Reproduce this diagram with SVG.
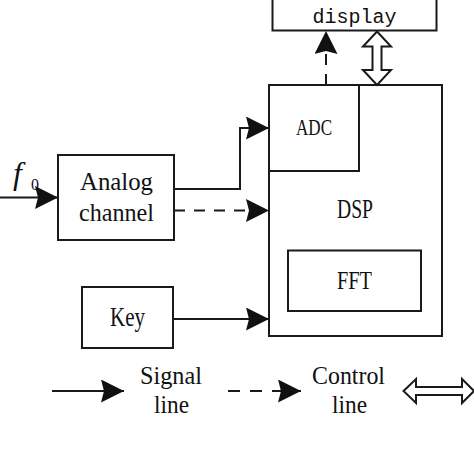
<svg xmlns="http://www.w3.org/2000/svg" width="474" height="474" viewBox="0 0 474 474">
<defs>
<style>
.box{fill:#fff;stroke:#1a1a1a;stroke-width:2}
.ln{fill:none;stroke:#1a1a1a;stroke-width:2}
.dash{stroke-dasharray:11,9}
.hollow{fill:#fff;stroke:#1a1a1a;stroke-width:2;stroke-linejoin:miter}
.t{font-family:"Liberation Serif","Times New Roman",serif;font-size:26px;fill:#111;text-anchor:middle}
.m{font-family:"Liberation Mono","Courier New",monospace;font-size:20px;fill:#111;text-anchor:middle}
</style>
<marker id="ah" viewBox="0 0 23 23" refX="23" refY="11.5" markerWidth="23" markerHeight="23" markerUnits="userSpaceOnUse" orient="auto">
<path d="M0,0 L23,11.5 L0,23 L3,11.5 z" fill="#111"/>
</marker>
</defs>
<rect width="474" height="474" fill="#fff"/>

<g id="display">
<rect class="box" x="272.5" y="-5" width="164" height="35.5"/>
<text class="m" x="354.5" y="23">display</text>
</g>

<g id="dsp">
<rect class="box" x="269" y="85" width="173" height="251"/>
<text class="t" x="355" y="218" style="font-size:27px" textLength="36" lengthAdjust="spacingAndGlyphs">DSP</text>
</g>

<g id="adc">
<rect class="box" x="269" y="85" width="90" height="86"/>
<text class="t" x="314" y="135" style="font-size:23px" textLength="36" lengthAdjust="spacingAndGlyphs">ADC</text>
</g>

<g id="fft">
<rect class="box" x="288" y="250.5" width="133" height="60.5"/>
<text class="t" x="354.5" y="289" style="font-size:25px" textLength="35" lengthAdjust="spacingAndGlyphs">FFT</text>
</g>

<g id="analog">
<rect class="box" x="58" y="155" width="116" height="85"/>
<text class="t" x="116.5" y="190" textLength="73" lengthAdjust="spacingAndGlyphs">Analog</text>
<text class="t" x="116.5" y="221" textLength="75" lengthAdjust="spacingAndGlyphs">channel</text>
</g>

<g id="key">
<rect class="box" x="82" y="287" width="91" height="61"/>
<text class="t" x="127.5" y="326" style="font-size:27px" textLength="35" lengthAdjust="spacingAndGlyphs">Key</text>
</g>

<g id="input-label">
<text x="13" y="184" style="font-family:'Liberation Serif','Times New Roman',serif;font-size:32px;font-style:italic;fill:#111">f</text>
<text x="31" y="190" style="font-family:'Liberation Serif','Times New Roman',serif;font-size:16px;fill:#111">0</text>
</g>

<g id="connectors">
<path class="ln" d="M0,197.5 H58" marker-end="url(#ah)"/>
<path class="ln" d="M174,189 H240 V128 H269" marker-end="url(#ah)"/>
<path class="ln dash" d="M174,210.5 H269" marker-end="url(#ah)"/>
<path class="ln" d="M173,319 H269" marker-end="url(#ah)"/>
<path class="ln dash" d="M326,85 V31" marker-end="url(#ah)"/>
<polygon class="hollow" points="377,31.5 391,46.5 381.5,46.5 381.5,70 391,70 377,85 363,70 372.5,70 372.5,46.5 363,46.5"/>
</g>

<g id="legend">
<path class="ln" d="M52,391 H124" marker-end="url(#ah)"/>
<text class="t" x="171" y="384" textLength="62" lengthAdjust="spacingAndGlyphs">Signal</text>
<text class="t" x="171.5" y="413" textLength="35" lengthAdjust="spacingAndGlyphs">line</text>
<path class="ln" d="M228,391 H301" style="stroke-dasharray:12,10" marker-end="url(#ah)"/>
<text class="t" x="348.5" y="384" textLength="73" lengthAdjust="spacingAndGlyphs">Control</text>
<text class="t" x="349.5" y="413" textLength="35" lengthAdjust="spacingAndGlyphs">line</text>
<polygon class="hollow" points="403.5,391 416,379 416,387 462,387 462,379 474,391 462,403 462,395 416,395 416,403"/>
</g>
</svg>
